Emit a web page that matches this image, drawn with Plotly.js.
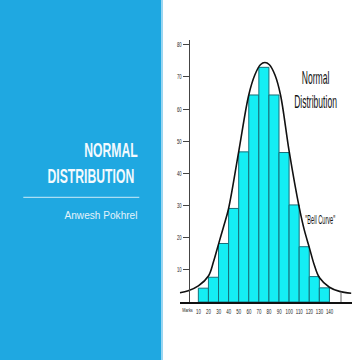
<!DOCTYPE html>
<html>
<head>
<meta charset="utf-8">
<script src="https://cdn.plot.ly/plotly-3.0.1.min.js"></script>
<style>html,body{margin:0;padding:0;background:#fff;}#chart{width:360px;height:360px;}</style>
</head>
<body>
<div id="chart"></div>
<script>
// ---- data ----
const binEdges = [10, 20, 30, 40, 50, 60, 70, 80, 90, 100, 110, 120, 130, 140];
const binCounts = [4.3, 7.7, 18.2, 29.1, 46.7, 64.4, 73.0, 64.4, 46.5, 30.2, 17.2, 7.9, 4.4];
const curveX = [-8.3, 0, 10, 20, 25, 30, 35, 40, 50, 60, 66, 71.5, 76, 80.5, 86, 91.5, 100, 110, 115, 120, 125, 130, 140, 150, 161.7];
const curveY = [2.9, 3.5, 5.0, 8.1, 12.5, 18.0, 23.4, 29.1, 46.7, 64.4, 70.6, 73.8, 74.5, 73.8, 70.6, 64.4, 47.0, 29.5, 22.5, 17.0, 11.5, 7.6, 4.6, 3.3, 2.7];
const tailMarkX = [151.5, 151.5];
const tailMarkY = [0, 3.2];
const yTicks = [10, 20, 30, 40, 50, 60, 70, 80];
const xAxisName = "Marks";
const chartTitle = ["Normal", "Distribution"];
const curveLabel = '"Bell Curve"';
const slideTitle = ["NORMAL", "DISTRIBUTION"];
const slideAuthor = "Anwesh Pokhrel";

// ---- build ----
const barCenters = binCounts.map((_, i) => (binEdges[i] + binEdges[i + 1]) / 2);
const barWidths = binCounts.map((_, i) => binEdges[i + 1] - binEdges[i]);

const P = v => v / 360;          // pixel -> paper (x)
const Q = v => 1 - v / 360;      // pixel -> paper (y)
const chartFont = "Liberation Sans, Arial, sans-serif";

const traces = [
  {
    type: 'bar', x: barCenters, y: binCounts, width: barWidths,
    marker: { color: '#14eef4', line: { color: '#17707a', width: 1 } },
    hoverinfo: 'skip', showlegend: false
  },
  {
    type: 'scatter', mode: 'lines', x: curveX, y: curveY,
    line: { color: '#111', width: 1.6, shape: 'spline', smoothing: 1 },
    hoverinfo: 'skip', showlegend: false
  },
  {
    type: 'scatter', mode: 'lines', x: tailMarkX, y: tailMarkY,
    line: { color: '#666', width: 1 }, hoverinfo: 'skip', showlegend: false
  }
];

const annSpecs = [
  { text: chartTitle[0], x: P(315.5), y: Q(77), size: 19, xanchor: 'center', color: '#111', s: 0.45 },
  { text: chartTitle[1], x: P(315.5), y: Q(101.5), size: 19, xanchor: 'center', color: '#111', s: 0.45 },
  { text: curveLabel, x: P(320), y: Q(220), size: 12.5, xanchor: 'center', color: '#111', s: 0.45 },
  { text: xAxisName, x: P(187.5), y: Q(310), size: 5.5, xanchor: 'center', color: '#222', s: 0.7 },
  { text: slideTitle[0], x: P(140.3), y: Q(149.5), size: 20, xanchor: 'right', color: '#f3fafe', s: 0.61, bold: true },
  { text: slideTitle[1], x: P(135.5), y: Q(175.5), size: 20, xanchor: 'right', color: '#f3fafe', s: 0.61, bold: true },
  { text: slideAuthor, x: P(140.3), y: Q(215), size: 11, xanchor: 'right', color: '#e4f3fb', s: 0.92 }
];

const annotations = annSpecs.map(a => ({
  text: a.text, x: a.x, y: a.y, xref: 'paper', yref: 'paper',
  xanchor: a.xanchor, yanchor: 'middle', align: a.xanchor === 'right' ? 'right' : 'center',
  showarrow: false,
  font: { family: chartFont, size: a.size, color: a.color, weight: a.bold ? 'bold' : 'normal' }
}));

const layout = {
  width: 360, height: 360,
  margin: { l: 0, r: 0, t: 0, b: 0, pad: 0 },
  paper_bgcolor: '#ffffff', plot_bgcolor: 'rgba(0,0,0,0)',
  bargap: 0,
  xaxis: {
    domain: [P(179.7), P(351.6)], range: [-8.5, 162],
    showgrid: false, zeroline: false,
    showline: true, linecolor: '#111', linewidth: 2,
    tickmode: 'array', tickvals: binEdges, ticktext: binEdges.map(String),
    ticks: '', ticklen: 0, tickangle: 0,
    tickfont: { family: chartFont, size: 8, color: '#222' },
    fixedrange: true
  },
  yaxis: {
    domain: [Q(302), Q(40)], range: [0, 81.5],
    anchor: 'free', position: P(189),
    showgrid: false, zeroline: false,
    showline: true, linecolor: '#444', linewidth: 1,
    tickmode: 'array', tickvals: yTicks, ticktext: yTicks.map(String),
    ticks: 'outside', ticklen: 6, tickwidth: 1, tickcolor: '#444',
    tickfont: { family: chartFont, size: 7, color: '#222' },
    fixedrange: true
  },
  shapes: [
    { type: 'rect', xref: 'paper', yref: 'paper', x0: 0, x1: P(161), y0: 0, y1: 1,
      fillcolor: '#1fa8e1', line: { width: 0 }, layer: 'below' },
    { type: 'rect', xref: 'paper', yref: 'paper', x0: P(161), x1: P(163), y0: 0, y1: 1,
      fillcolor: '#9ad6f1', line: { width: 0 }, layer: 'below' },
    { type: 'line', xref: 'paper', yref: 'paper', x0: P(23.3), x1: P(139.3), y0: Q(197.3), y1: Q(197.3),
      line: { color: '#cdebf8', width: 1 } }
  ],
  annotations: annotations
};

function squeeze(el, s) {
  const b = el.getBBox();
  const a = el.getAttribute('text-anchor') || 'start';
  const px = a === 'end' ? b.x + b.width : (a === 'middle' ? b.x + b.width / 2 : b.x);
  const prev = el.getAttribute('transform') || '';
  el.setAttribute('transform', prev + ' translate(' + px + ',0) scale(' + s + ',1) translate(' + (-px) + ',0)');
}

Plotly.newPlot('chart', traces, layout, { staticPlot: true, displayModeBar: false, responsive: false })
  .then(gd => {
    try {
      gd.querySelectorAll('.xtick text').forEach(t => squeeze(t, 0.55));
      gd.querySelectorAll('.ytick text').forEach(t => squeeze(t, 0.6));
      annSpecs.forEach((a, i) => {
        const g = gd.querySelector('.annotation[data-index="' + i + '"] text');
        if (g) squeeze(g, a.s);
      });
    } catch (e) { console.log(e); }
  });
</script>
</body>
</html>
